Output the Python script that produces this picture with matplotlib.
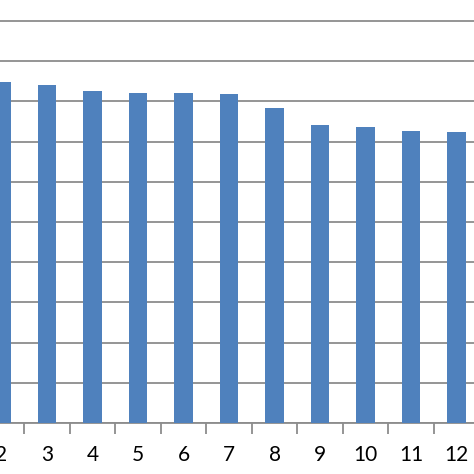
import matplotlib
matplotlib.use("Agg")
import matplotlib.pyplot as plt
import numpy as np

categories = [2, 3, 4, 5, 6, 7, 8, 9, 10, 11, 12]
values = [8.48, 8.41, 8.26, 8.21, 8.20, 8.18, 7.84, 7.41, 7.36, 7.26, 7.24]
tick_labels = [str(c) for c in categories]

W = 474
unit = 40.2
fig = plt.figure(figsize=(4.74, 4.74), dpi=100)
base = 423
ymax = 10.1
ax = fig.add_axes([0, (W - base) / W, 1, ymax * unit / W])

x = np.array(categories, dtype=float)
ax.bar(x, values, width=0.4, color="#4F81BD", zorder=3)

ax.set_yticks(np.arange(0, 11, 1))
ax.yaxis.grid(True, color="#8C8C8C", linewidth=1.3, zorder=0)
ax.tick_params(axis="y", left=False, labelleft=False)

ax.set_xticks(x)
ax.set_xticklabels(tick_labels, fontsize=15, family=["Lato", "DejaVu Sans"])
ax.set_xticks(np.arange(1.5, 13.5, 1), minor=True)
ax.tick_params(axis="x", which="major", length=0, pad=16)
ax.tick_params(axis="x", which="minor", length=8, color="#8C8C8C", width=1.3)

ax.set_xlim(3 - 47 / 45.5, 3 + 427 / 45.5)
ax.set_ylim(0, ymax)

for s in ["top", "left", "right"]:
    ax.spines[s].set_visible(False)
ax.spines["bottom"].set_color("#8C8C8C")
ax.spines["bottom"].set_linewidth(1.3)

fig.savefig("out.png", dpi=100)
